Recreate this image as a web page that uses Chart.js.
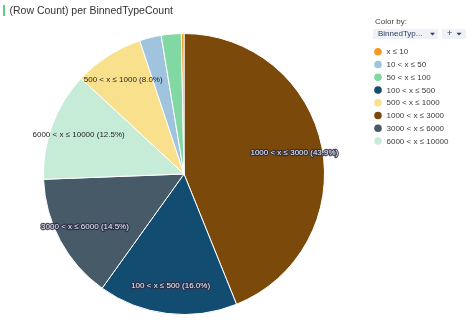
<!DOCTYPE html>
<html>
<head>
<meta charset="utf-8">
<script src="https://cdn.jsdelivr.net/npm/chart.js@4.4.1/dist/chart.umd.min.js"></script>
<style>
  html, body { margin: 0; padding: 0; background: #ffffff; }
  #wrap { position: relative; width: 474px; height: 325px; }
</style>
</head>
<body>
<div id="wrap"><canvas id="c" width="474" height="325"></canvas></div>
<script>
// Bins of the BinnedTypeCount column, in the order the pie draws them (clockwise from 12 o'clock)
const categories = ['1000 < x ≤ 3000', '100 < x ≤ 500', '3000 < x ≤ 6000', '6000 < x ≤ 10000',
                    '500 < x ≤ 1000', '10 < x ≤ 50', '50 < x ≤ 100', 'x ≤ 10'];
// Share of row count per bin (%)
const rowCountShare = [43.9, 16.0, 14.5, 12.5, 8.0, 2.5, 2.3, 0.3];
// Colour per bin
const binColors = {
  'x ≤ 10': '#f39a1f',
  '10 < x ≤ 50': '#a0c3de',
  '50 < x ≤ 100': '#82d8a3',
  '100 < x ≤ 500': '#124c71',
  '500 < x ≤ 1000': '#f9e08d',
  '1000 < x ≤ 3000': '#7b4a0a',
  '3000 < x ≤ 6000': '#475a68',
  '6000 < x ≤ 10000': '#c6ecd7'
};
// Order of the entries in the "Color by" legend
const legendOrder = ['x ≤ 10', '10 < x ≤ 50', '50 < x ≤ 100', '100 < x ≤ 500',
                     '500 < x ≤ 1000', '1000 < x ≤ 3000', '3000 < x ≤ 6000', '6000 < x ≤ 10000'];
const darkBins = ['100 < x ≤ 500', '1000 < x ≤ 3000', '3000 < x ≤ 6000'];

const FONT = '"Liberation Sans", Arial, sans-serif';

// Slice labels: "<bin> (<share>%)" placed along each slice's middle angle
const sliceLabels = {
  id: 'sliceLabels',
  afterDatasetsDraw(chart) {
    const ctx = chart.ctx;
    const meta = chart.getDatasetMeta(0);
    const data = chart.data.datasets[0].data;
    const total = data.reduce((a, b) => a + b, 0);
    ctx.save();
    ctx.font = '8px ' + FONT;
    ctx.textAlign = 'center';
    ctx.textBaseline = 'middle';
    meta.data.forEach((arc, i) => {
      const share = data[i] / total * 100;
      if (share < 5) return;
      const p = arc.getProps(['x', 'y', 'startAngle', 'endAngle', 'outerRadius'], true);
      const mid = (p.startAngle + p.endAngle) / 2;
      const r = p.outerRadius * 0.8;
      const x = p.x + Math.cos(mid) * r;
      const y = p.y + Math.sin(mid) * r;
      const name = chart.data.labels[i];
      const txt = name + ' (' + share.toFixed(1) + '%)';
      if (darkBins.includes(name)) {
        ctx.lineJoin = 'round';
        ctx.lineWidth = 2.4;
        ctx.strokeStyle = 'rgba(45,45,70,0.85)';
        ctx.strokeText(txt, x, y);
        ctx.fillStyle = '#eef1f7';
      } else {
        ctx.fillStyle = '#1e1e1e';
      }
      ctx.fillText(txt, x, y);
    });
    ctx.restore();
  }
};

// Title and "Color by" panel
const panel = {
  id: 'panel',
  afterDraw(chart) {
    const ctx = chart.ctx;
    ctx.save();
    // title with its marker
    ctx.fillStyle = '#5fcf86';
    ctx.fillRect(3, 5, 2, 11);
    ctx.fillStyle = '#333333';
    ctx.font = '10.5px ' + FONT;
    ctx.textBaseline = 'middle';
    ctx.textAlign = 'left';
    ctx.fillText('(Row Count) per BinnedTypeCount', 9.5, 11);

    ctx.font = '8px ' + FONT;
    ctx.fillStyle = '#444';
    ctx.fillText('Color by:', 375, 22);

    // selector boxes
    ctx.fillStyle = '#eef1f6';
    ctx.fillRect(373, 29, 65, 10);
    ctx.fillRect(442, 29, 24, 10);
    ctx.fillStyle = '#2b3f5c';
    ctx.fillText('BinnedTyp...', 378, 34);
    ctx.font = '9px ' + FONT;
    ctx.fillText('+', 447, 34);
    const tri = (x, y) => {
      ctx.beginPath();
      ctx.moveTo(x - 2.5, y - 1.3);
      ctx.lineTo(x + 2.5, y - 1.3);
      ctx.lineTo(x, y + 1.5);
      ctx.closePath();
      ctx.fill();
    };
    tri(432.5, 34);
    tri(459, 34);

    // legend entries
    ctx.font = '8px ' + FONT;
    legendOrder.forEach((name, i) => {
      const y = 51.7 + i * 12.75;
      ctx.beginPath();
      ctx.arc(378, y, 3.8, 0, Math.PI * 2);
      ctx.fillStyle = binColors[name];
      ctx.fill();
      ctx.fillStyle = '#3a3a3a';
      ctx.fillText(name, 386.5, y + 0.5);
    });
    ctx.restore();
  }
};

new Chart(document.getElementById('c'), {
  type: 'pie',
  data: {
    labels: categories,
    datasets: [{
      data: rowCountShare,
      backgroundColor: categories.map(c => binColors[c]),
      borderColor: '#ffffff',
      borderWidth: 1
    }]
  },
  options: {
    responsive: false,
    animation: false,
    events: [],
    layout: { padding: { left: 43, right: 149, top: 33, bottom: 10 } },
    plugins: {
      legend: { display: false },
      tooltip: { enabled: false },
      title: { display: false }
    }
  },
  plugins: [sliceLabels, panel]
});
</script>
</body>
</html>
